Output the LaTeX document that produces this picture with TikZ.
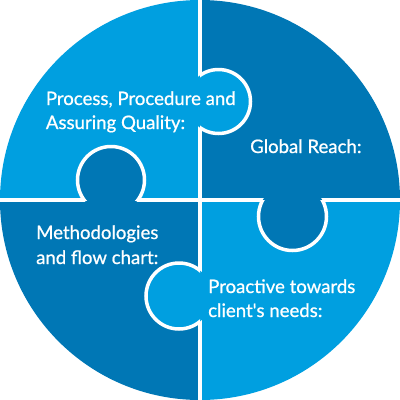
\documentclass[tikz,border=0pt]{standalone}
\usepackage{fontspec}
\setmainfont{Lato}[FakeBold=0.8]
\definecolor{lightb}{HTML}{009FE0}
\definecolor{darkb}{HTML}{0077B5}
\begin{document}
\begin{tikzpicture}[x=1pt,y=-1pt,
  lbl/.style={text=white,font=\fontsize{18.6}{22}\selectfont,anchor=base west,inner sep=0pt},
  gap/.style={white,line width=3.5pt}]
\useasboundingbox (0,0) rectangle (400,400);
\begin{scope}
\clip (200,200) circle (200);
\fill[lightb] (0,0) rectangle (200,200);
\fill[darkb] (200,0) rectangle (400,200);
\fill[darkb] (0,200) rectangle (200,400);
\fill[lightb] (200,200) rectangle (400,400);
\draw[gap] (200,0) -- (200,400);
\draw[gap] (0,200) -- (400,200);
% knob: top-left piece into top-right
\fill[lightb] (218.5,101.5) circle (32);
\begin{scope}\clip (200,0) rectangle (400,200);
\draw[gap] (218.5,101.5) circle (32);\end{scope}
% knob: bottom-left piece into top-left
\fill[darkb] (111,180) circle (33.5);
\begin{scope}\clip (0,0) rectangle (200,200);
\draw[gap] (111,180) circle (33.5);\end{scope}
% knob: top-right piece into bottom-right
\fill[darkb] (292.5,216.5) circle (34);
\begin{scope}\clip (200,200) rectangle (400,400);
\draw[gap] (292.5,216.5) circle (34);\end{scope}
% knob: bottom-right piece into bottom-left
\fill[lightb] (179,296) circle (33);
\begin{scope}\clip (0,200) rectangle (200,400);
\draw[gap] (179,296) circle (33);\end{scope}
\end{scope}
\node[lbl] (t1a) at (45.7,105) {Process, Procedure and};
\node[lbl] (t1b) at (45.7,129) {Assuring Quality:};
\node[lbl] (t2) at (250,153) {Global Reach:};
\node[lbl] (t3a) at (36,239) {Methodologies};
\node[lbl] (t3b) at (36,264) {and flow chart:};
\node[lbl] (t4a) at (208,293) {Proactive towards};
\node[lbl] (t4b) at (208,317) {client\textquotesingle s needs:};
\end{tikzpicture}
\end{document}
